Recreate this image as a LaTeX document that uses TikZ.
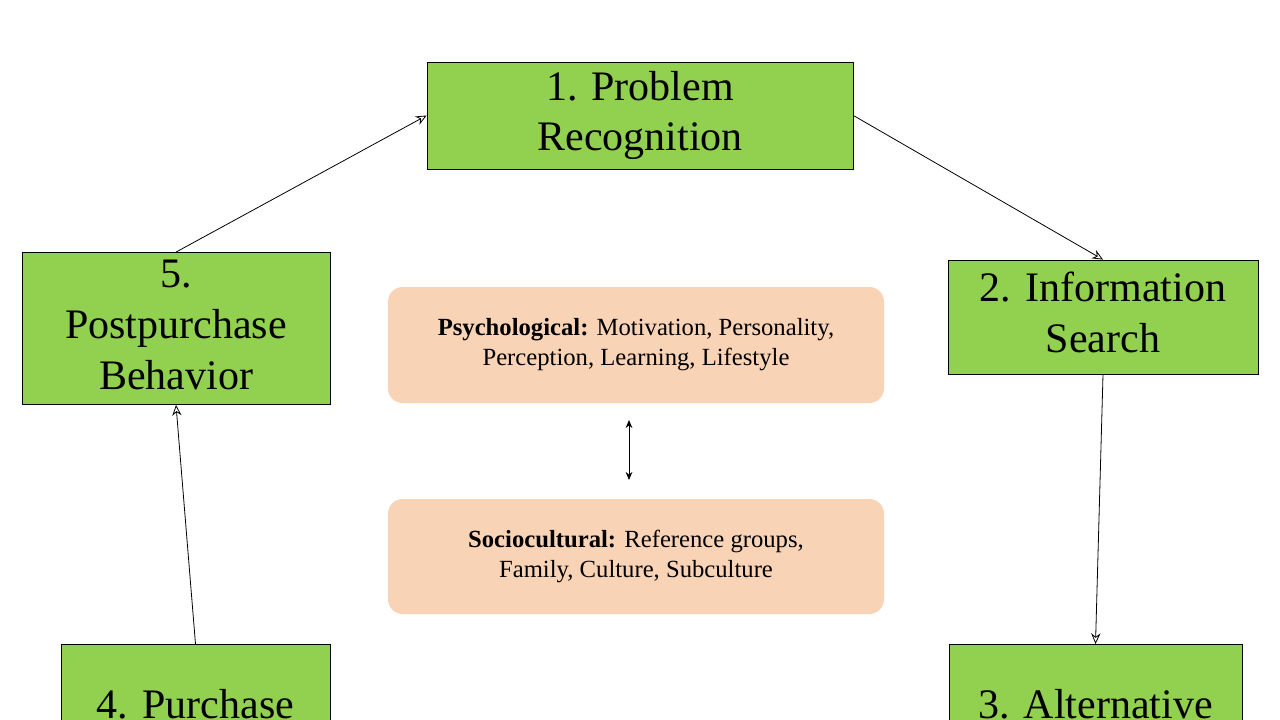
\documentclass[tikz,border=0pt]{standalone}
\usepackage{fontspec}
\setmainfont{Liberation Serif}
\usetikzlibrary{arrows.meta}
\definecolor{gbox}{HTML}{92D050}
\definecolor{pbox}{HTML}{F9D3B6}
\begin{document}
\begin{tikzpicture}[x=0.75pt,y=-0.75pt,
  gstep/.style={draw=black,line width=0.6pt,fill=gbox,inner sep=0pt,align=center,font=\fontsize{31.5}{38}\selectfont},
  pstep/.style={fill=pbox,rounded corners=11pt,inner sep=0pt,align=center,font=\fontsize{18.5}{22.5}\selectfont},
  arr/.style={-{Stealth[open,length=8pt,width=7pt]},line width=0.6pt}]
\useasboundingbox (0,0) rectangle (1280,720);
\clip (0,0) rectangle (1280,720);
\node[gstep,minimum width=426*0.75pt,minimum height=107*0.75pt] (n1) at (640,115.5) {\raisebox{-4pt}{\begin{tabular}{@{}c@{}}1. Problem\\Recognition\end{tabular}}};
\node[gstep,minimum width=310*0.75pt,minimum height=114*0.75pt] (n2) at (1103,317) {\raisebox{-3pt}{\begin{tabular}{@{}c@{}}2. Information\\Search\end{tabular}}};
\node[gstep,minimum width=308*0.75pt,minimum height=149*0.75pt] (n5) at (176,328.5) {\raisebox{-3pt}{\begin{tabular}{@{}c@{}}5.\\Postpurchase\\Behavior\end{tabular}}};
\node[gstep,minimum width=269*0.75pt,minimum height=130*0.75pt,anchor=north] (n4) at (195.5,644) {};
\node[font=\fontsize{31.5}{38}\selectfont,anchor=base] (t4) at (195.5,718) {4. Purchase};
\node[gstep,minimum width=293*0.75pt,minimum height=130*0.75pt,anchor=north] (n3) at (1095.5,644) {};
\node[font=\fontsize{31.5}{38}\selectfont,anchor=base] (t3) at (1095.5,718) {3. Alternative};
\node[pstep,minimum width=496*0.75pt,minimum height=116*0.75pt] (ps) at (636,345) {\textbf{Psychological:} Motivation, Personality,\\Perception, Learning, Lifestyle};
\node[pstep,minimum width=496*0.75pt,minimum height=115*0.75pt] (sc) at (636,556.5) {\textbf{Sociocultural:} Reference groups,\\Family, Culture, Subculture};
\coordinate (da) at (629,420);
\coordinate (db) at (629,480);
\draw[arr] (n5.north) -- (n1.west);
\draw[arr] (n1.east) -- (n2.north);
\draw[arr] (n2.south) -- (n3.north);
\draw[arr] (n4.north) -- (n5.south);
\draw[{Stealth[length=6pt,width=5pt]}-{Stealth[length=6pt,width=5pt]},line width=0.6pt] (da) -- (db);
\end{tikzpicture}
\end{document}
